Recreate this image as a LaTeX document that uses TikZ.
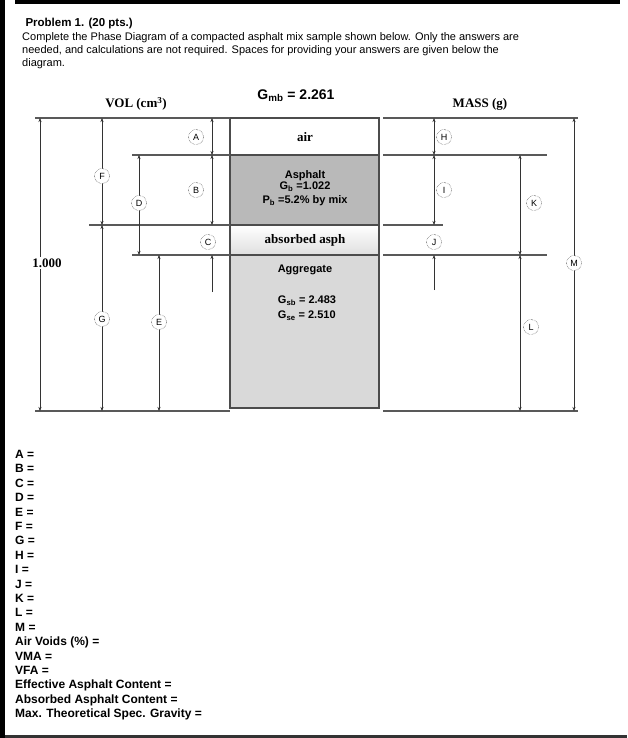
\documentclass[tikz,border=0pt]{standalone}
\usepackage{fontspec}
\setmainfont{Liberation Serif}
\setsansfont{Liberation Sans}
\usetikzlibrary{positioning}
\usetikzlibrary{arrows.meta}
\tikzset{>={Stealth[length=4pt,width=3pt]}}
\tikzset{dim/.style={<->,thin,black!80}}
\tikzset{level/.style={gray!70!black,line width=1.2pt}}
\tikzset{tag/.style={draw,circle,densely dotted,minimum size=15pt,inner sep=0pt,fill=white,font=\sffamily\fontsize{9}{9}\selectfont}}
\tikzset{phase/.style={draw=gray!60!black,line width=1.2pt}}
\tikzset{bsans/.style={font=\sffamily\bfseries\fontsize{11}{12}\selectfont}}
\tikzset{bserif/.style={font=\bfseries\fontsize{13}{14}\selectfont}}

\begin{document}
\begin{tikzpicture}[x=1pt,y=-1pt]
\useasboundingbox (0,0) rectangle (627,738);
\fill[black] (0,0) rectangle (5,738);
\fill[black] (15,0) rectangle (620,4);
\fill[black!80] (5,735) rectangle (627,738);

% text above the diagram
\node[anchor=base west,font=\sffamily\bfseries\fontsize{11.5}{12}\selectfont] (title) at (22,27) {Problem 1. (20 pts.)};
\node[anchor=north west,align=left,inner sep=0pt,font=\sffamily\fontsize{11}{13}\selectfont] (intro) at (22,32)
  {Complete the Phase Diagram of a compacted asphalt mix sample shown below. Only the answers are\\
   needed, and calculations are not required. Spaces for providing your answers are given below the\\
   diagram.};

% headings
\node[bserif] (vol) at (136,104) {VOL (cm\textsuperscript{3})};
\node[font=\sffamily\bfseries\fontsize{14}{14}\selectfont] (gmb) at (296,96) {G\textsubscript{mb} = 2.261};
\node[bserif] (mass) at (480,104) {MASS (g)};

% phases
\fill[white] (230,118) rectangle (379,155);
\fill[gray!55] (230,155) rectangle (379,225);
\shade[top color=white,bottom color=gray!25] (230,225) rectangle (379,255);
\fill[gray!30] (230,255) rectangle (379,408);
\draw[phase] (230,118) rectangle (379,408);
\foreach \y in {155,225,255} \draw[phase] (230,\y) -- (379,\y);

\node[bserif] (air) at (305,137) {air};
\node[bsans,align=center] (asph) at (305,188)
  {Asphalt\\[-1pt] G\textsubscript{b} =1.022\\[2pt] P\textsubscript{b} =5.2\% by mix};
\node[bserif] (absorb) at (305,240) {absorbed asph};
\node[bsans] (agg) at (305,270) {Aggregate};
\node[bsans,align=left] (gs) at (307,308) {G\textsubscript{sb} = 2.483\\[3pt] G\textsubscript{se} = 2.510};

% level lines
\draw[level] (35,118) -- (230,118);
\draw[level] (132,155) -- (230,155);
\draw[level] (89,225) -- (230,225);
\draw[level] (132,255) -- (230,255);
\draw[level] (35,411) -- (230,411);
\draw[level] (383,118) -- (578,118);
\draw[level] (383,155) -- (547,155);
\draw[level] (383,225) -- (443,225);
\draw[level] (383,255) -- (547,255);
\draw[level] (383,411) -- (578,411);

% dimension arrows
\foreach \n/\x/\ya/\yb in {one/40/118/411, F/102/118/225, D/139/155/255, A/212/118/155,
    B/212/155/225, G/102/225/411, E/159/255/411, H/434/118/155, I/434/155/225,
    K/520/155/255, L/520/255/411, M/574/118/411} {
  \coordinate (t\n) at (\x,\ya);
  \coordinate (b\n) at (\x,\yb);
  \draw[dim] (t\n) -- (b\n);
}
\coordinate (tC) at (212,255);
\coordinate (bC) at (212,292);
\draw[->,thin,black!80] (bC) -- (tC);
\coordinate (tJ) at (434,255);
\coordinate (bJ) at (434,290);
\draw[->,thin,black!80] (bJ) -- (tJ);

% labels
\node[fill=white,font=\bfseries\fontsize{13}{14}\selectfont,inner sep=2pt] (unit) at (47,263) {1.000};
\foreach \n/\x/\y in {A/196/137, B/196/190, C/208/242, D/139/203, E/159/322, F/102/176,
    G/102/319, H/444/137, I/444/190, J/434/242, K/534/203, L/531/327, M/574/263}
  \node[tag] (l\n) at (\x,\y) {\n};

% answer spaces
\node[anchor=north west,align=left,inner sep=0pt,font=\sffamily\bfseries\fontsize{12}{14.4}\selectfont] (answers) at (15,450)
  {A =\\ B =\\ C =\\ D =\\ E =\\ F =\\ G =\\ H =\\ I =\\ J =\\ K =\\ L =\\ M =\\
   Air Voids (\%) =\\ VMA =\\ VFA =\\ Effective Asphalt Content =\\
   Absorbed Asphalt Content =\\ Max. Theoretical Spec. Gravity =};
\end{tikzpicture}
\end{document}
